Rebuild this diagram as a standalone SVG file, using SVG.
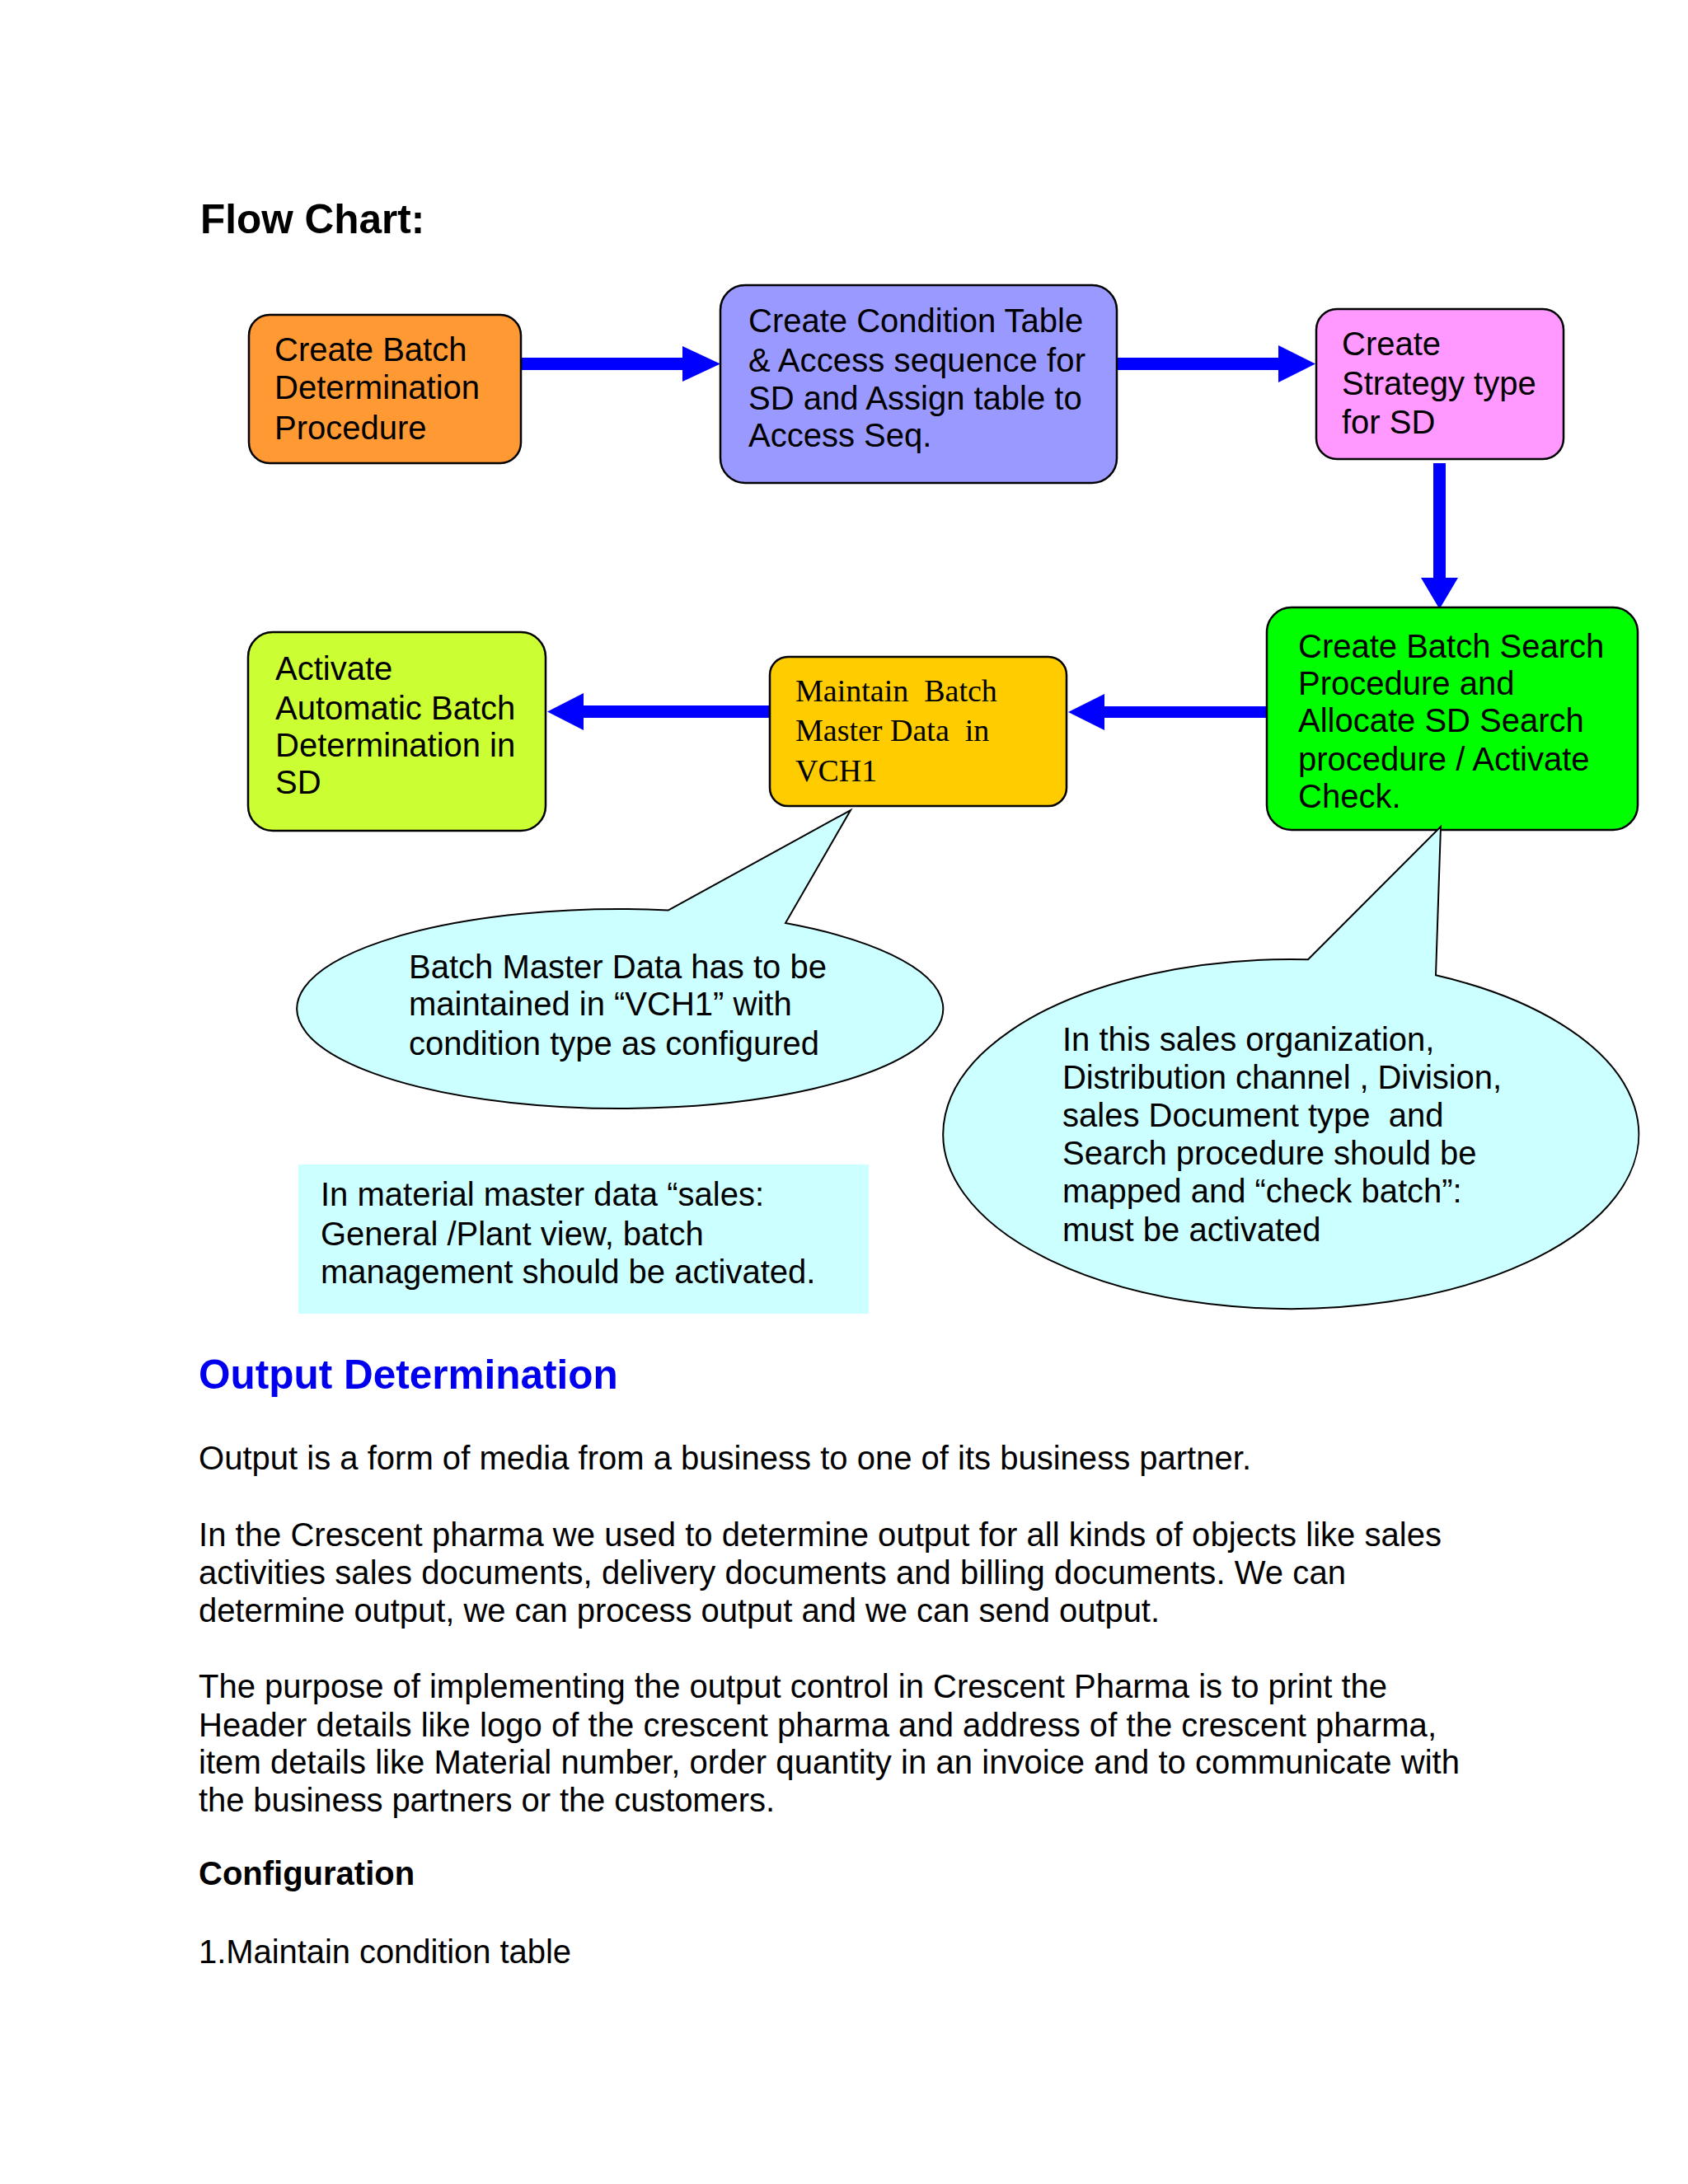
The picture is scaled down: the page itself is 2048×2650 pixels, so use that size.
<svg xmlns="http://www.w3.org/2000/svg" width="2048" height="2650" viewBox="0 0 2048 2650">
<style>
.t{font-family:"Liberation Sans",Arial,sans-serif;font-size:40px;fill:#000}
.tb{font-family:"Liberation Sans",Arial,sans-serif;font-weight:bold;fill:#000}
.ts{font-family:"Liberation Serif","Times New Roman",serif;font-size:38px;fill:#000}
.box{stroke:#000;stroke-width:2.5}
.call{fill:#CCFFFF;stroke:#000;stroke-width:2}
.arr{fill:#0000FF}
</style>
<rect width="2048" height="2650" fill="#fff"/>
<text class="tb" x="243" y="283" font-size="49.5">Flow Chart:</text>

<g id="connectors">
<path class="arr" d="M632,434 H828 V420 L874,441.5 L828,463 V449 H632 Z"/>
<path class="arr" d="M1356,434 H1551 V419 L1596,441.5 L1551,464 V449 H1356 Z"/>
<path class="arr" d="M1739,562 V701 H1724 L1746.5,739 L1769,701 H1754 V562 Z"/>
<path class="arr" d="M1537,857 H1340 V842 L1296,864 L1340,886 V871 H1537 Z"/>
<path class="arr" d="M934,856 H708 V841 L664,863.5 L708,886 V871 H934 Z"/>
</g>

<g id="node-create-batch-det">
<rect class="box" x="302" y="382" width="330" height="180" rx="25" fill="#FF9933"/>
<text class="t" x="333" y="438">Create Batch</text>
<text class="t" x="333" y="484">Determination</text>
<text class="t" x="333" y="533">Procedure</text>
</g>

<g id="node-condition-table">
<rect class="box" x="874" y="346" width="481" height="240" rx="30" fill="#9999FF"/>
<text class="t" x="908" y="403">Create Condition Table</text>
<text class="t" x="908" y="451" textLength="409" lengthAdjust="spacing">&amp; Access sequence for</text>
<text class="t" x="908" y="497">SD and Assign table to</text>
<text class="t" x="908" y="542">Access Seq.</text>
</g>

<g id="node-strategy">
<rect class="box" x="1597" y="375" width="300" height="182" rx="25" fill="#FF99FF"/>
<text class="t" x="1628" y="431">Create</text>
<text class="t" x="1628" y="479">Strategy type</text>
<text class="t" x="1628" y="526">for SD</text>
</g>

<g id="node-search-procedure">
<rect class="box" x="1537" y="737" width="450" height="270" rx="30" fill="#00FF00"/>
<text class="t" x="1575" y="798">Create Batch Search</text>
<text class="t" x="1575" y="843">Procedure and</text>
<text class="t" x="1575" y="888">Allocate SD Search</text>
<text class="t" x="1575" y="935">procedure / Activate</text>
<text class="t" x="1575" y="980">Check.</text>
</g>

<g id="node-maintain-batch">
<rect class="box" x="934" y="797" width="360" height="181" rx="22" fill="#FFCC00"/>
<text class="ts" x="965" y="851" xml:space="preserve">Maintain  Batch</text>
<text class="ts" x="965" y="899" xml:space="preserve">Master Data  in</text>
<text class="ts" x="965" y="948">VCH1</text>
</g>

<g id="node-activate">
<rect class="box" x="301" y="767" width="361" height="241" rx="30" fill="#CCFF33"/>
<text class="t" x="334" y="825">Activate</text>
<text class="t" x="334" y="873">Automatic Batch</text>
<text class="t" x="334" y="918">Determination in</text>
<text class="t" x="334" y="963">SD</text>
</g>

<g id="callout-vch1">
<path class="call" d="M811,1104.4 L1032,983 L953,1120.1 A392,121 0 1 1 811,1104.4 Z"/>
<text class="t" x="496" y="1187">Batch Master Data has to be</text>
<text class="t" x="496" y="1232">maintained in “VCH1” with</text>
<text class="t" x="496" y="1280">condition type as configured</text>
</g>

<g id="callout-sales-org">
<path class="call" d="M1587,1164.3 L1748,1003 L1742,1183.3 A422,212 0 1 1 1587,1164.3 Z"/>
<text class="t" x="1289" y="1275">In this sales organization,</text>
<text class="t" x="1289" y="1321" textLength="533" lengthAdjust="spacing">Distribution channel , Division,</text>
<text class="t" x="1289" y="1367" xml:space="preserve">sales Document type  and</text>
<text class="t" x="1289" y="1413">Search procedure should be</text>
<text class="t" x="1289" y="1459">mapped and “check batch”:</text>
<text class="t" x="1289" y="1506">must be activated</text>
</g>

<g id="note-material-master">
<rect x="362" y="1413" width="692" height="181" fill="#CCFFFF"/>
<text class="t" x="389" y="1463">In material master data “sales:</text>
<text class="t" x="389" y="1511">General /Plant view, batch</text>
<text class="t" x="389" y="1557">management should be activated.</text>
</g>

<text class="tb" x="241" y="1685" font-size="49.5" style="fill:#0000EE">Output Determination</text>
<text class="t" x="241" y="1783" textLength="1277" lengthAdjust="spacing">Output is a form of media from a business to one of its business partner.</text>
<text class="t" x="241" y="1876" textLength="1508" lengthAdjust="spacing">In the Crescent pharma we used to determine output for all kinds of objects like sales</text>
<text class="t" x="241" y="1922" textLength="1392" lengthAdjust="spacing">activities sales documents, delivery documents and billing documents. We can</text>
<text class="t" x="241" y="1968" textLength="1166" lengthAdjust="spacing">determine output, we can process output and we can send output.</text>
<text class="t" x="241" y="2060" textLength="1442" lengthAdjust="spacing">The purpose of implementing the output control in Crescent Pharma is to print the</text>
<text class="t" x="241" y="2107" textLength="1502" lengthAdjust="spacing">Header details like logo of the crescent pharma and address of the crescent pharma,</text>
<text class="t" x="241" y="2152" textLength="1530" lengthAdjust="spacing">item details like Material number, order quantity in an invoice and to communicate with</text>
<text class="t" x="241" y="2198" textLength="699" lengthAdjust="spacing">the business partners or the customers.</text>
<text class="tb" x="241" y="2287" font-size="40">Configuration</text>
<text class="t" x="241" y="2382" textLength="452" lengthAdjust="spacing">1.Maintain condition table</text>
</svg>
